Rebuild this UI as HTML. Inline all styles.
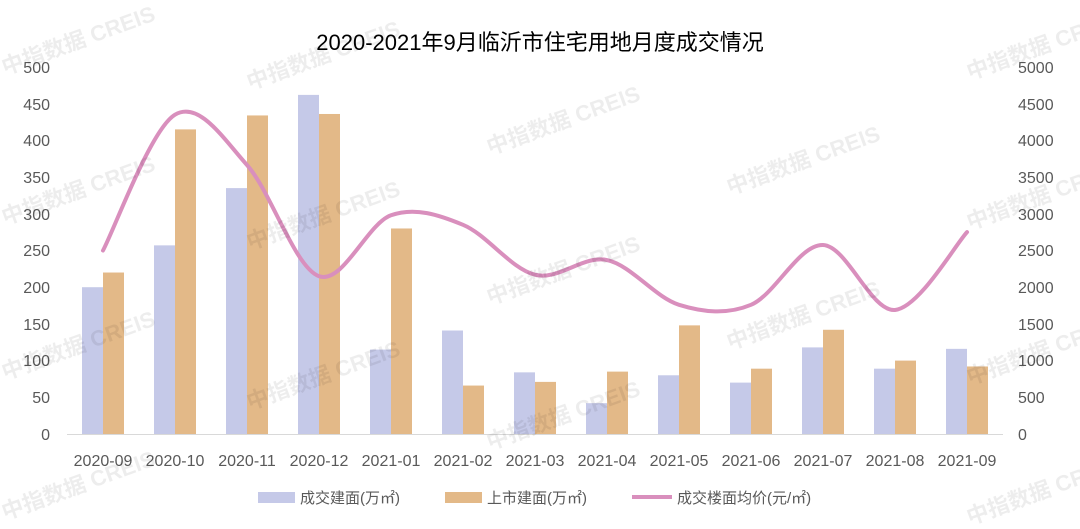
<!DOCTYPE html>
<html><head><meta charset="utf-8"><style>
body{margin:0;background:#fff;}
svg{display:block;font-family:"Liberation Sans","Noto Sans CJK SC",sans-serif;}
</style></head><body>
<svg id="s" width="1080" height="529" viewBox="0 0 1080 529">
<text x="540" y="50" font-size="22" text-anchor="middle" fill="#000">2020-2021年9月临沂市住宅用地月度成交情况</text>
<g font-size="16" fill="#595959" text-anchor="end">
<text x="50" y="440">0</text><text x="50" y="403">50</text><text x="50" y="366">100</text><text x="50" y="330">150</text><text x="50" y="293">200</text><text x="50" y="256">250</text><text x="50" y="220">300</text><text x="50" y="183">350</text><text x="50" y="146">400</text><text x="50" y="110">450</text><text x="50" y="73">500</text>
</g>
<g font-size="16" fill="#595959" text-anchor="start">
<text x="1018" y="440">0</text><text x="1018" y="403">500</text><text x="1018" y="366">1000</text><text x="1018" y="330">1500</text><text x="1018" y="293">2000</text><text x="1018" y="256">2500</text><text x="1018" y="220">3000</text><text x="1018" y="183">3500</text><text x="1018" y="146">4000</text><text x="1018" y="110">4500</text><text x="1018" y="73">5000</text>
</g>
<g id="bars"></g>
<line x1="67" y1="434.5" x2="1003" y2="434.5" stroke="#d9d9d9"/>
<path id="ln" fill="none" stroke="#d98fbd" stroke-width="4" stroke-linecap="round"/>
<g font-size="16" fill="#595959" text-anchor="middle">
<text x="103" y="466">2020-09</text><text x="175" y="466">2020-10</text><text x="247" y="466">2020-11</text><text x="319" y="466">2020-12</text><text x="391" y="466">2021-01</text><text x="463" y="466">2021-02</text><text x="535" y="466">2021-03</text><text x="607" y="466">2021-04</text><text x="679" y="466">2021-05</text><text x="751" y="466">2021-06</text><text x="823" y="466">2021-07</text><text x="895" y="466">2021-08</text><text x="967" y="466">2021-09</text>
</g>
<rect x="258" y="492" width="37" height="11" fill="#c5c9e8"/>
<text x="300" y="503" font-size="15" fill="#595959">成交建面(万㎡)</text>
<rect x="445" y="492" width="37" height="11" fill="#e3b988"/>
<text x="487" y="503" font-size="15" fill="#595959">上市建面(万㎡)</text>
<line x1="632" y1="497" x2="672" y2="497" stroke="#d98fbd" stroke-width="4"/>
<text x="677" y="503" font-size="15" fill="#595959">成交楼面均价(元/㎡)</text>
<g font-size="22" font-weight="bold" fill="#000" fill-opacity="0.07">
<text transform="translate(5,75) rotate(-20)">中指数据 CREIS</text>
<text transform="translate(250,90) rotate(-20)">中指数据 CREIS</text>
<text transform="translate(490,155) rotate(-20)">中指数据 CREIS</text>
<text transform="translate(730,195) rotate(-20)">中指数据 CREIS</text>
<text transform="translate(970,80) rotate(-20)">中指数据 CREIS</text>
<text transform="translate(5,225) rotate(-20)">中指数据 CREIS</text>
<text transform="translate(250,250) rotate(-20)">中指数据 CREIS</text>
<text transform="translate(490,305) rotate(-20)">中指数据 CREIS</text>
<text transform="translate(730,350) rotate(-20)">中指数据 CREIS</text>
<text transform="translate(970,230) rotate(-20)">中指数据 CREIS</text>
<text transform="translate(5,380) rotate(-20)">中指数据 CREIS</text>
<text transform="translate(250,410) rotate(-20)">中指数据 CREIS</text>
<text transform="translate(490,450) rotate(-20)">中指数据 CREIS</text>
<text transform="translate(970,385) rotate(-20)">中指数据 CREIS</text>
<text transform="translate(5,520) rotate(-20)">中指数据 CREIS</text>
<text transform="translate(970,525) rotate(-20)">中指数据 CREIS</text>
</g>
</svg>
<script>
var p=[200,257,335,462,115,141,84,42,80,70,118,89,116],o=[220,415,434,436,280,66,71,85,148,89,142,100,92],
l=[2500,4350,3665,2150,2980,2850,2170,2370,1760,1760,2575,1690,2750];
var g=document.getElementById('bars'),h='',s=0.734;
for(var i=0;i<13;i++){var x=103+72*i;
h+='<rect x="'+(x-21)+'" y="'+(434-p[i]*s)+'" width="21" height="'+p[i]*s+'" fill="#c5c9e8"/>';
h+='<rect x="'+x+'" y="'+(434-o[i]*s)+'" width="21" height="'+o[i]*s+'" fill="#e3b988"/>';}
g.innerHTML=h;
var pts=l.map(function(v,i){return [103+72*i,434-v*s/10];});
var d='M'+pts[0][0]+','+pts[0][1];
for(var i=0;i<12;i++){var a=pts[i-1]||pts[i],b=pts[i],c=pts[i+1],e=pts[i+2]||c;
d+=' C'+(b[0]+(c[0]-a[0])/6)+','+(b[1]+(c[1]-a[1])/6)+' '+(c[0]-(e[0]-b[0])/6)+','+(c[1]-(e[1]-b[1])/6)+' '+c[0]+','+c[1];}
document.getElementById('ln').setAttribute('d',d);
</script>
</body></html>
